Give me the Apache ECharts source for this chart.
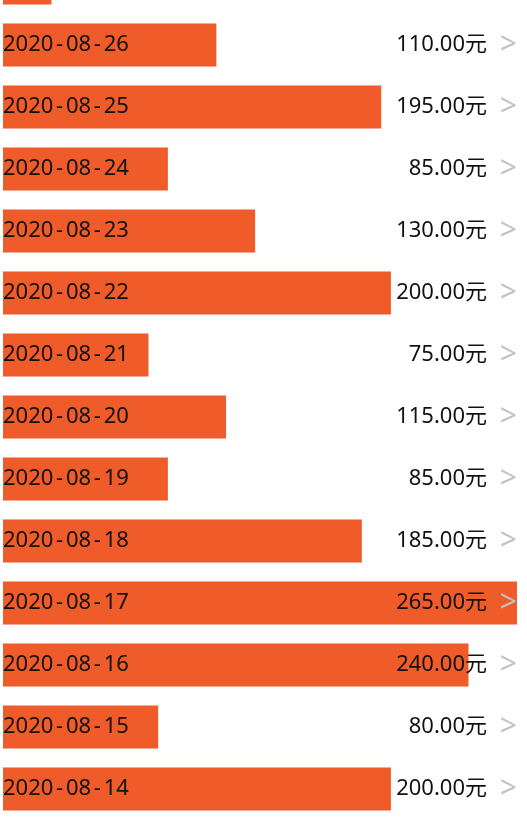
<!DOCTYPE html>
<html>
<head>
<meta charset="utf-8">
<script src="https://cdn.jsdelivr.net/npm/echarts@6/dist/echarts.min.js"></script>
<style>
html,body{margin:0;padding:0;background:#fff;overflow:hidden;width:527px;height:822px;position:relative;}
#chart{position:absolute;left:0;top:-48px;width:527px;height:870px;}
</style>
</head>
<body>
<div id="chart"></div>
<script>
const dates = ['2020-08-27','2020-08-26','2020-08-25','2020-08-24','2020-08-23','2020-08-22','2020-08-21','2020-08-20','2020-08-19','2020-08-18','2020-08-17','2020-08-16','2020-08-15','2020-08-14'];
const amounts = [25, 110, 195, 85, 130, 200, 75, 115, 85, 185, 265, 240, 80, 200];
const unit = '元';
const axisMax = 265;

const chart = echarts.init(document.getElementById('chart'), null, {renderer: 'canvas'});
const FONT = '"Noto Sans", "Noto Sans CJK SC", sans-serif';

chart.setOption({
  animation: false,
  backgroundColor: '#ffffff',
  grid: { left: 3, right: 10, top: 0, height: 868, containLabel: false },
  xAxis: { type: 'value', min: 0, max: axisMax, show: false },
  yAxis: [
    {
      type: 'category', data: dates, inverse: true, position: 'left', z: 10,
      axisLine: { show: false }, axisTick: { show: false }, splitLine: { show: false },
      axisLabel: {
        inside: true, margin: 0, color: '#111', fontFamily: FONT, fontSize: 22,
        formatter: function (v) { return v.split('-').map(function (p) { return '{d|' + p + '}'; }).join('{h|-}'); },
        rich: {
          d: { fontFamily: FONT, fontSize: 22, color: '#111' },
          h: { fontFamily: FONT, fontSize: 22, color: '#111', width: 12.6, align: 'center' }
        }
      }
    },
    {
      type: 'category', data: dates, inverse: true, position: 'right', z: 10,
      axisLine: { show: false }, axisTick: { show: false }, splitLine: { show: false },
      axisLabel: {
        inside: true, margin: 0,
        formatter: function (v, i) { return '{v|' + amounts[i].toFixed(2) + unit + '}{g|>}'; },
        rich: {
          v: { fontFamily: FONT, fontSize: 22, color: '#111', lineHeight: 30 },
          g: { fontFamily: FONT, fontSize: 30, color: '#c2c2c2', width: 30, align: 'right', lineHeight: 30 }
        }
      }
    }
  ],
  series: [{
    type: 'bar', data: amounts, barWidth: 43, yAxisIndex: 0,
    itemStyle: { color: '#ef5c2a' }
  }]
});
</script>
</body>
</html>
